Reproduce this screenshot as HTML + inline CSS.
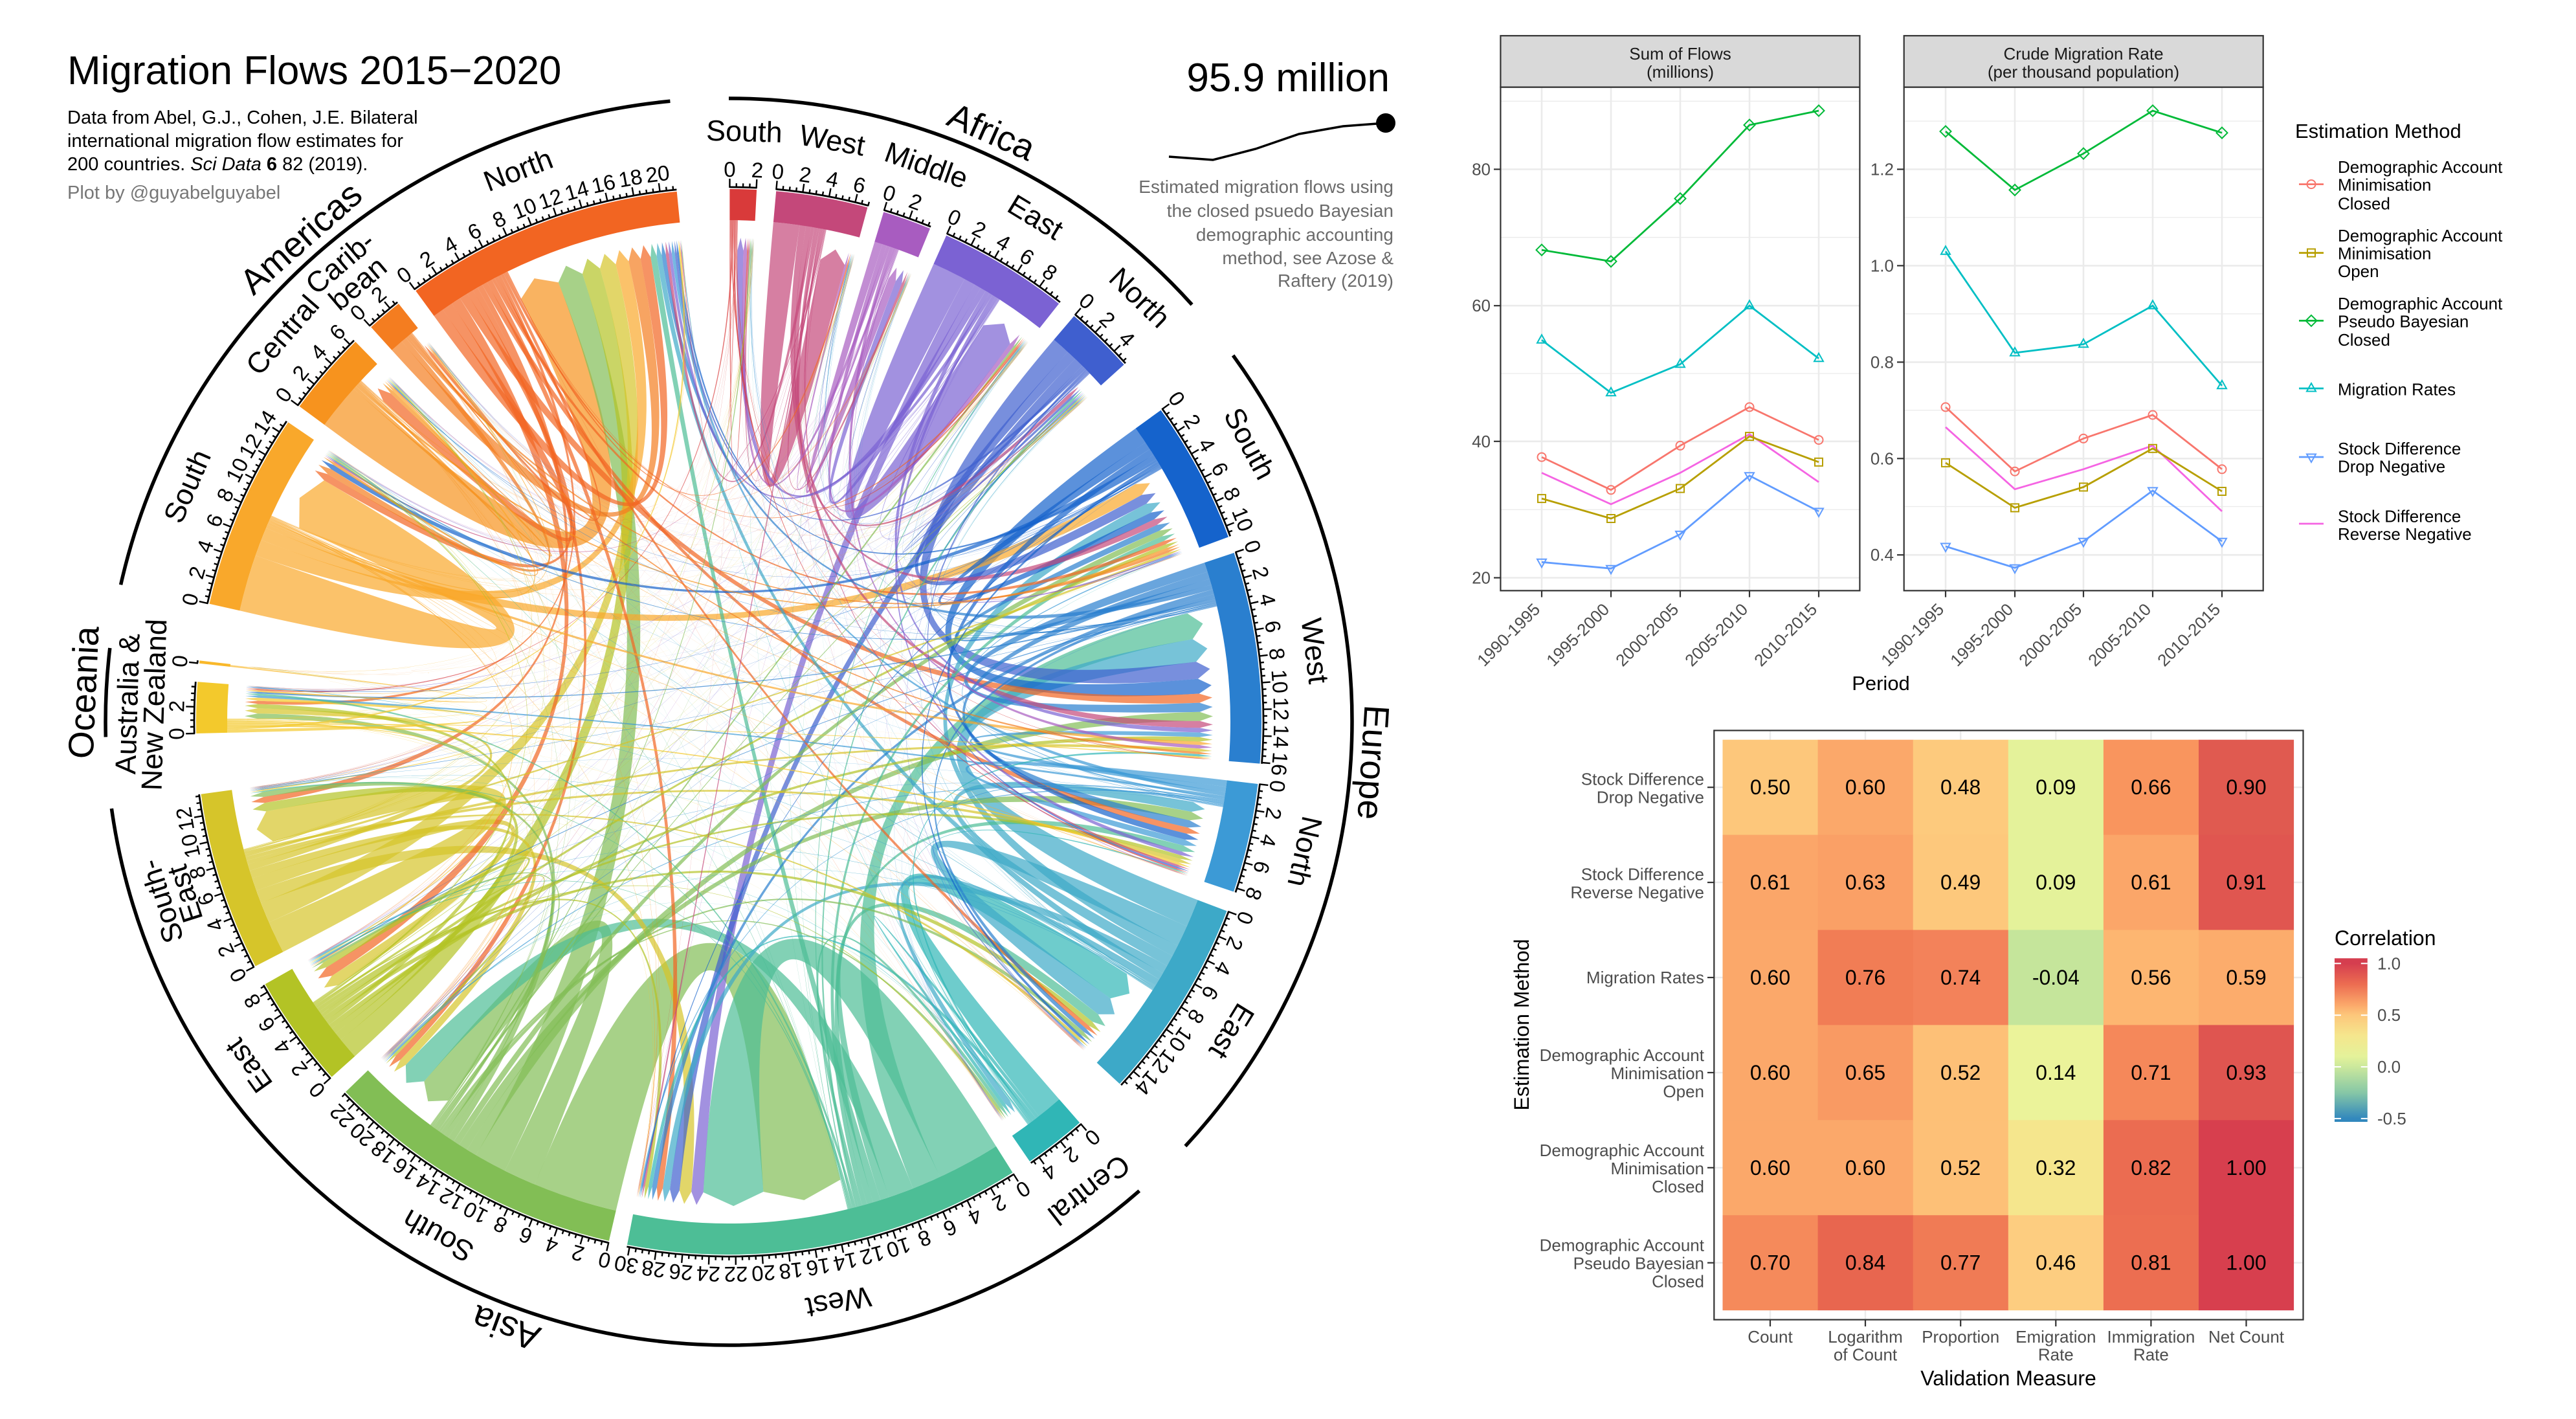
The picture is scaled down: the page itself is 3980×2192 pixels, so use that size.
<!DOCTYPE html>
<html><head><meta charset="utf-8"><style>
html,body{margin:0;padding:0;background:#fff;}
body{width:3980px;height:2192px;overflow:hidden;}
svg{display:block;}
text{font-family:"Liberation Sans",Arial,sans-serif;}
</style></head><body>
<svg id="main" width="3980" height="2192" viewBox="0 0 3980 2192" xmlns="http://www.w3.org/2000/svg">
<defs>
<g id="mc"><circle r="6.5" fill="none" stroke-width="2"/></g>
<g id="ms"><rect x="-6" y="-6" width="12" height="12" fill="none" stroke-width="2"/></g>
<g id="md"><path d="M0,-8.5L8.5,0L0,8.5L-8.5,0Z" fill="none" stroke-width="2"/></g>
<g id="mtu"><path d="M0,-8L7,4.5L-7,4.5Z" fill="none" stroke-width="2"/></g>
<g id="mtd"><path d="M0,8L7,-4.5L-7,-4.5Z" fill="none" stroke-width="2"/></g>
<linearGradient id="cbar" x1="0" y1="0" x2="0" y2="1">
<stop offset="0" stop-color="#D53E4F"/><stop offset="0.0317" stop-color="#D53E4F"/>
<stop offset="0.158" stop-color="#EC6C51"/><stop offset="0.285" stop-color="#FBA86A"/>
<stop offset="0.348" stop-color="#FDC77B"/><stop offset="0.474" stop-color="#F5E68D"/>
<stop offset="0.600" stop-color="#E4F29A"/><stop offset="0.664" stop-color="#CBE89C"/>
<stop offset="0.822" stop-color="#86C7A6"/><stop offset="0.980" stop-color="#3288BD"/><stop offset="1" stop-color="#3288BD"/>
</linearGradient>
</defs>
<rect width="3980" height="2192" fill="#fff"/>

<!-- CHORD DIAGRAM (geometry generated by script below) -->
<g id="chords"></g>
<g id="blocks"></g>
<g id="ticks"></g>
<g id="rarcs"></g>

<!-- titles -->
<text x="104" y="130" font-size="62" fill="#000">Migration Flows 2015−2020</text>
<text x="104" y="191" font-size="29" fill="#000">Data from Abel, G.J., Cohen, J.E. Bilateral</text>
<text x="104" y="227" font-size="29" fill="#000">international migration flow estimates for</text>
<text x="104" y="263" font-size="29" fill="#000">200 countries. <tspan font-style="italic">Sci Data</tspan> <tspan font-weight="bold">6</tspan> 82 (2019).</text>
<text x="104" y="307" font-size="29" fill="#777">Plot by @guyabelguyabel</text>

<text x="2147" y="141" font-size="62" text-anchor="end" fill="#000">95.9 million</text>
<polyline points="1806,242 1874,247 1940,230 2007,207 2075,195 2141,190" fill="none" stroke="#000" stroke-width="3.5"/>
<circle cx="2141" cy="190" r="15" fill="#000"/>
<g font-size="28" fill="#6B6B6B" text-anchor="end">
<text x="2153" y="298">Estimated migration flows using</text>
<text x="2153" y="335">the closed psuedo Bayesian</text>
<text x="2153" y="372">demographic accounting</text>
<text x="2153" y="408">method, see Azose &amp;</text>
<text x="2153" y="443">Raftery (2019)</text>
</g>

<!-- circular labels -->
<g transform="translate(1126 1115)" text-anchor="middle" fill="#000">
<g font-size="55">
<text transform="rotate(-41.5)" y="-979">Americas</text>
<text transform="rotate(24)" y="-979">Africa</text>
<text transform="rotate(93.6)" y="-979">Europe</text>
<text transform="rotate(200.2)" y="-979">Asia</text>
<text transform="rotate(-87.4)" y="-979">Oceania</text>
</g>
<g font-size="45">
<text transform="rotate(-66.5)" y="-897">South</text>
<text transform="rotate(-49.1)" y="-897">Central</text>
<text transform="rotate(-40.25)" y="-914">Carib-</text>
<text transform="rotate(-40.25)" y="-872">bean</text>
<text transform="rotate(-20.9)" y="-897">North</text>
<text transform="rotate(1.5)" y="-897">South</text>
<text transform="rotate(10.1)" y="-897">West</text>
<text transform="rotate(19.55)" y="-897">Middle</text>
<text transform="rotate(31.3)" y="-897">East</text>
<text transform="rotate(44.1)" y="-897">North</text>
<text transform="rotate(61.9)" y="-897">South</text>
<text transform="rotate(83.1)" y="-897">West</text>
<text transform="rotate(102.7)" y="-897">North</text>
<text transform="rotate(121.6)" y="-897">East</text>
<text transform="rotate(142.4)" y="-897">Central</text>
<text transform="rotate(169.3)" y="-897">West</text>
<text transform="rotate(209.5)" y="-897">South</text>
<text transform="rotate(234.4)" y="-897">East</text>
<text transform="rotate(252.45)" y="-904">South-</text>
<text transform="rotate(252.45)" y="-866">East</text>
<text transform="rotate(271.7)" y="-914">Australia &amp;</text>
<text transform="rotate(271.7)" y="-873">New Zealand</text>
</g>
<g font-size="33">
<text transform="rotate(-77.2)" y="-842">0</text><text transform="rotate(-74.34)" y="-842">2</text><text transform="rotate(-71.48)" y="-842">4</text><text transform="rotate(-68.62)" y="-842">6</text><text transform="rotate(-65.76)" y="-842">8</text><text transform="rotate(-62.9)" y="-842">10</text><text transform="rotate(-60.04)" y="-842">12</text><text transform="rotate(-57.18)" y="-842">14</text>
<text transform="rotate(-53.7)" y="-842">0</text><text transform="rotate(-50.84)" y="-842">2</text><text transform="rotate(-47.98)" y="-842">4</text><text transform="rotate(-45.12)" y="-842">6</text>
<text transform="rotate(-42.2)" y="-842">0</text><text transform="rotate(-39.34)" y="-842">2</text>
<text transform="rotate(-36)" y="-842">0</text><text transform="rotate(-33.14)" y="-842">2</text><text transform="rotate(-30.28)" y="-842">4</text><text transform="rotate(-27.42)" y="-842">6</text><text transform="rotate(-24.56)" y="-842">8</text><text transform="rotate(-21.7)" y="-842">10</text><text transform="rotate(-18.84)" y="-842">12</text><text transform="rotate(-15.98)" y="-842">14</text><text transform="rotate(-13.12)" y="-842">16</text><text transform="rotate(-10.26)" y="-842">18</text><text transform="rotate(-7.4)" y="-842">20</text>
<text transform="rotate(0.1)" y="-842">0</text><text transform="rotate(2.96)" y="-842">2</text>
<text transform="rotate(5.1)" y="-842">0</text><text transform="rotate(7.96)" y="-842">2</text><text transform="rotate(10.82)" y="-842">4</text><text transform="rotate(13.68)" y="-842">6</text>
<text transform="rotate(16.9)" y="-842">0</text><text transform="rotate(19.76)" y="-842">2</text>
<text transform="rotate(24.1)" y="-842">0</text><text transform="rotate(26.96)" y="-842">2</text><text transform="rotate(29.82)" y="-842">4</text><text transform="rotate(32.68)" y="-842">6</text><text transform="rotate(35.54)" y="-842">8</text>
<text transform="rotate(40.4)" y="-842">0</text><text transform="rotate(43.26)" y="-842">2</text><text transform="rotate(46.12)" y="-842">4</text>
<text transform="rotate(54.2)" y="-842">0</text><text transform="rotate(57.06)" y="-842">2</text><text transform="rotate(59.92)" y="-842">4</text><text transform="rotate(62.78)" y="-842">6</text><text transform="rotate(65.64)" y="-842">8</text><text transform="rotate(68.5)" y="-842">10</text>
<text transform="rotate(71.5)" y="-842">0</text><text transform="rotate(74.36)" y="-842">2</text><text transform="rotate(77.22)" y="-842">4</text><text transform="rotate(80.08)" y="-842">6</text><text transform="rotate(82.94)" y="-842">8</text><text transform="rotate(85.8)" y="-842">10</text><text transform="rotate(88.66)" y="-842">12</text><text transform="rotate(91.52)" y="-842">14</text><text transform="rotate(94.38)" y="-842">16</text>
<text transform="rotate(96.7)" y="-842">0</text><text transform="rotate(99.56)" y="-842">2</text><text transform="rotate(102.42)" y="-842">4</text><text transform="rotate(105.28)" y="-842">6</text><text transform="rotate(108.14)" y="-842">8</text>
<text transform="rotate(110.8)" y="-842">0</text><text transform="rotate(113.66)" y="-842">2</text><text transform="rotate(116.52)" y="-842">4</text><text transform="rotate(119.38)" y="-842">6</text><text transform="rotate(122.24)" y="-842">8</text><text transform="rotate(125.1)" y="-842">10</text><text transform="rotate(127.96)" y="-842">12</text><text transform="rotate(130.82)" y="-842">14</text>
<text transform="rotate(138.8)" y="-842">0</text><text transform="rotate(141.66)" y="-842">2</text><text transform="rotate(144.52)" y="-842">4</text>
<text transform="rotate(147.8)" y="-842">0</text><text transform="rotate(150.66)" y="-842">2</text><text transform="rotate(153.52)" y="-842">4</text><text transform="rotate(156.38)" y="-842">6</text><text transform="rotate(159.24)" y="-842">8</text><text transform="rotate(162.1)" y="-842">10</text><text transform="rotate(164.96)" y="-842">12</text><text transform="rotate(167.82)" y="-842">14</text><text transform="rotate(170.68)" y="-842">16</text><text transform="rotate(173.54)" y="-842">18</text><text transform="rotate(176.4)" y="-842">20</text><text transform="rotate(179.26)" y="-842">22</text><text transform="rotate(182.12)" y="-842">24</text><text transform="rotate(184.98)" y="-842">26</text><text transform="rotate(187.84)" y="-842">28</text><text transform="rotate(190.7)" y="-842">30</text>
<text transform="rotate(193)" y="-842">0</text><text transform="rotate(195.86)" y="-842">2</text><text transform="rotate(198.72)" y="-842">4</text><text transform="rotate(201.58)" y="-842">6</text><text transform="rotate(204.44)" y="-842">8</text><text transform="rotate(207.3)" y="-842">10</text><text transform="rotate(210.16)" y="-842">12</text><text transform="rotate(213.02)" y="-842">14</text><text transform="rotate(215.88)" y="-842">16</text><text transform="rotate(218.74)" y="-842">18</text><text transform="rotate(221.6)" y="-842">20</text><text transform="rotate(224.46)" y="-842">22</text>
<text transform="rotate(228.2)" y="-842">0</text><text transform="rotate(231.06)" y="-842">2</text><text transform="rotate(233.92)" y="-842">4</text><text transform="rotate(236.78)" y="-842">6</text><text transform="rotate(239.64)" y="-842">8</text>
<text transform="rotate(242.7)" y="-842">0</text><text transform="rotate(245.56)" y="-842">2</text><text transform="rotate(248.42)" y="-842">4</text><text transform="rotate(251.28)" y="-842">6</text><text transform="rotate(254.14)" y="-842">8</text><text transform="rotate(257)" y="-842">10</text><text transform="rotate(259.86)" y="-842">12</text>
<text transform="rotate(268.75)" y="-842">0</text><text transform="rotate(271.61)" y="-842">2</text>
<text transform="rotate(276.3)" y="-842">0</text>
</g>
</g>

<!-- LINE CHARTS -->
<g>
<!-- left panel -->
<rect x="2318.4" y="134.6" width="555" height="777.8" fill="#fff"/>
<g stroke="#EBEBEB" stroke-width="1.3">
<line x1="2318.4" y1="156.3" x2="2873.4" y2="156.3"/><line x1="2318.4" y1="366.7" x2="2873.4" y2="366.7"/><line x1="2318.4" y1="577" x2="2873.4" y2="577"/><line x1="2318.4" y1="787.3" x2="2873.4" y2="787.3"/>
</g>
<g stroke="#EBEBEB" stroke-width="2.6">
<line x1="2318.4" y1="261.5" x2="2873.4" y2="261.5"/><line x1="2318.4" y1="472.2" x2="2873.4" y2="472.2"/><line x1="2318.4" y1="681.8" x2="2873.4" y2="681.8"/><line x1="2318.4" y1="892.5" x2="2873.4" y2="892.5"/>
<line x1="2382" y1="134.6" x2="2382" y2="912.4"/><line x1="2489" y1="134.6" x2="2489" y2="912.4"/><line x1="2596" y1="134.6" x2="2596" y2="912.4"/><line x1="2703" y1="134.6" x2="2703" y2="912.4"/><line x1="2810" y1="134.6" x2="2810" y2="912.4"/>
</g>
<g fill="none" stroke-width="2.8">
<polyline stroke="#00BA38" points="2382,386.1 2489,403.8 2596,306.7 2703,193.1 2810,171"/>
<polyline stroke="#00BFC4" points="2382,525.2 2489,606.8 2596,562.7 2703,472.2 2810,553.8"/>
<polyline stroke="#F8766D" points="2382,706.1 2489,756.8 2596,688.4 2703,628.9 2810,679.6"/>
<polyline stroke="#F564E3" points="2382,730.4 2489,778.9 2596,730.4 2703,670.8 2810,744.7"/>
<polyline stroke="#B79F00" points="2382,770.1 2489,801 2596,754.6 2703,674.1 2810,713.8"/>
<polyline stroke="#619CFF" points="2382,868.3 2489,878.2 2596,825.2 2703,734.8 2810,789.9"/>
</g>
<g stroke="#00BA38"><use href="#md" x="2382" y="386.1"/><use href="#md" x="2489" y="403.8"/><use href="#md" x="2596" y="306.7"/><use href="#md" x="2703" y="193.1"/><use href="#md" x="2810" y="171"/></g>
<g stroke="#00BFC4"><use href="#mtu" x="2382" y="525.2"/><use href="#mtu" x="2489" y="606.8"/><use href="#mtu" x="2596" y="562.7"/><use href="#mtu" x="2703" y="472.2"/><use href="#mtu" x="2810" y="553.8"/></g>
<g stroke="#F8766D"><use href="#mc" x="2382" y="706.1"/><use href="#mc" x="2489" y="756.8"/><use href="#mc" x="2596" y="688.4"/><use href="#mc" x="2703" y="628.9"/><use href="#mc" x="2810" y="679.6"/></g>
<g stroke="#B79F00"><use href="#ms" x="2382" y="770.1"/><use href="#ms" x="2489" y="801"/><use href="#ms" x="2596" y="754.6"/><use href="#ms" x="2703" y="674.1"/><use href="#ms" x="2810" y="713.8"/></g>
<g stroke="#619CFF"><use href="#mtd" x="2382" y="868.3"/><use href="#mtd" x="2489" y="878.2"/><use href="#mtd" x="2596" y="825.2"/><use href="#mtd" x="2703" y="734.8"/><use href="#mtd" x="2810" y="789.9"/></g>
<rect x="2318.4" y="134.6" width="555" height="777.8" fill="none" stroke="#333" stroke-width="2.2"/>
<rect x="2318.4" y="55.2" width="555" height="79.4" fill="#D9D9D9" stroke="#333" stroke-width="2.2"/>
<g font-size="26" fill="#1A1A1A" text-anchor="middle"><text x="2596" y="92">Sum of Flows</text><text x="2596" y="120">(millions)</text></g>
<g stroke="#333" stroke-width="2.2">
<line x1="2308" y1="261.5" x2="2318.4" y2="261.5"/><line x1="2308" y1="472.2" x2="2318.4" y2="472.2"/><line x1="2308" y1="681.8" x2="2318.4" y2="681.8"/><line x1="2308" y1="892.5" x2="2318.4" y2="892.5"/>
<line x1="2382" y1="912.4" x2="2382" y2="922.5"/><line x1="2489" y1="912.4" x2="2489" y2="922.5"/><line x1="2596" y1="912.4" x2="2596" y2="922.5"/><line x1="2703" y1="912.4" x2="2703" y2="922.5"/><line x1="2810" y1="912.4" x2="2810" y2="922.5"/>
</g>
<g font-size="26" fill="#4D4D4D" text-anchor="end">
<text x="2303" y="270.5">80</text><text x="2303" y="481.2">60</text><text x="2303" y="690.8">40</text><text x="2303" y="901.5">20</text>
<text transform="translate(2381 943) rotate(-45)">1990-1995</text>
<text transform="translate(2488 943) rotate(-45)">1995-2000</text>
<text transform="translate(2595 943) rotate(-45)">2000-2005</text>
<text transform="translate(2702 943) rotate(-45)">2005-2010</text>
<text transform="translate(2809 943) rotate(-45)">2010-2015</text>
</g>

<!-- right panel -->
<rect x="2941.7" y="134.6" width="555" height="777.8" fill="#fff"/>
<g stroke="#EBEBEB" stroke-width="1.3">
<line x1="2941.7" y1="187.1" x2="3496.7" y2="187.1"/><line x1="2941.7" y1="335.9" x2="3496.7" y2="335.9"/><line x1="2941.7" y1="484.8" x2="3496.7" y2="484.8"/><line x1="2941.7" y1="633.7" x2="3496.7" y2="633.7"/><line x1="2941.7" y1="782.5" x2="3496.7" y2="782.5"/>
</g>
<g stroke="#EBEBEB" stroke-width="2.6">
<line x1="2941.7" y1="261.5" x2="3496.7" y2="261.5"/><line x1="2941.7" y1="410.4" x2="3496.7" y2="410.4"/><line x1="2941.7" y1="559.4" x2="3496.7" y2="559.4"/><line x1="2941.7" y1="708.3" x2="3496.7" y2="708.3"/><line x1="2941.7" y1="857.2" x2="3496.7" y2="857.2"/>
<line x1="3006" y1="134.6" x2="3006" y2="912.4"/><line x1="3113" y1="134.6" x2="3113" y2="912.4"/><line x1="3219" y1="134.6" x2="3219" y2="912.4"/><line x1="3326" y1="134.6" x2="3326" y2="912.4"/><line x1="3433" y1="134.6" x2="3433" y2="912.4"/>
</g>
<g fill="none" stroke-width="2.8">
<polyline stroke="#00BA38" points="3006,203 3113,293.5 3219,237.2 3326,171 3433,205.2"/>
<polyline stroke="#00BFC4" points="3006,388.3 3113,545 3219,531.8 3326,472.2 3433,595.8"/>
<polyline stroke="#F8766D" points="3006,628.9 3113,728.2 3219,677.4 3326,641 3433,724.8"/>
<polyline stroke="#F564E3" points="3006,659.8 3113,755.7 3219,724.8 3326,688.4 3433,789.9"/>
<polyline stroke="#B79F00" points="3006,714.9 3113,784.4 3219,752.4 3326,692.8 3433,759"/>
<polyline stroke="#619CFF" points="3006,844 3113,877.1 3219,836.3 3326,757.9 3433,836.3"/>
</g>
<g stroke="#00BA38"><use href="#md" x="3006" y="203"/><use href="#md" x="3113" y="293.5"/><use href="#md" x="3219" y="237.2"/><use href="#md" x="3326" y="171"/><use href="#md" x="3433" y="205.2"/></g>
<g stroke="#00BFC4"><use href="#mtu" x="3006" y="388.3"/><use href="#mtu" x="3113" y="545"/><use href="#mtu" x="3219" y="531.8"/><use href="#mtu" x="3326" y="472.2"/><use href="#mtu" x="3433" y="595.8"/></g>
<g stroke="#F8766D"><use href="#mc" x="3006" y="628.9"/><use href="#mc" x="3113" y="728.2"/><use href="#mc" x="3219" y="677.4"/><use href="#mc" x="3326" y="641"/><use href="#mc" x="3433" y="724.8"/></g>
<g stroke="#B79F00"><use href="#ms" x="3006" y="714.9"/><use href="#ms" x="3113" y="784.4"/><use href="#ms" x="3219" y="752.4"/><use href="#ms" x="3326" y="692.8"/><use href="#ms" x="3433" y="759"/></g>
<g stroke="#619CFF"><use href="#mtd" x="3006" y="844"/><use href="#mtd" x="3113" y="877.1"/><use href="#mtd" x="3219" y="836.3"/><use href="#mtd" x="3326" y="757.9"/><use href="#mtd" x="3433" y="836.3"/></g>
<rect x="2941.7" y="134.6" width="555" height="777.8" fill="none" stroke="#333" stroke-width="2.2"/>
<rect x="2941.7" y="55.2" width="555" height="79.4" fill="#D9D9D9" stroke="#333" stroke-width="2.2"/>
<g font-size="26" fill="#1A1A1A" text-anchor="middle"><text x="3219" y="92">Crude Migration Rate</text><text x="3219" y="120">(per thousand population)</text></g>
<g stroke="#333" stroke-width="2.2">
<line x1="2931" y1="261.5" x2="2941.7" y2="261.5"/><line x1="2931" y1="410.4" x2="2941.7" y2="410.4"/><line x1="2931" y1="559.4" x2="2941.7" y2="559.4"/><line x1="2931" y1="708.3" x2="2941.7" y2="708.3"/><line x1="2931" y1="857.2" x2="2941.7" y2="857.2"/>
<line x1="3006" y1="912.4" x2="3006" y2="922.5"/><line x1="3113" y1="912.4" x2="3113" y2="922.5"/><line x1="3219" y1="912.4" x2="3219" y2="922.5"/><line x1="3326" y1="912.4" x2="3326" y2="922.5"/><line x1="3433" y1="912.4" x2="3433" y2="922.5"/>
</g>
<g font-size="26" fill="#4D4D4D" text-anchor="end">
<text x="2926" y="270.5">1.2</text><text x="2926" y="419.4">1.0</text><text x="2926" y="568.4">0.8</text><text x="2926" y="717.3">0.6</text><text x="2926" y="866.2">0.4</text>
<text transform="translate(3005 943) rotate(-45)">1990-1995</text>
<text transform="translate(3112 943) rotate(-45)">1995-2000</text>
<text transform="translate(3218 943) rotate(-45)">2000-2005</text>
<text transform="translate(3325 943) rotate(-45)">2005-2010</text>
<text transform="translate(3432 943) rotate(-45)">2010-2015</text>
</g>
<text x="2906" y="1066" font-size="31" text-anchor="middle" fill="#000">Period</text>

<!-- legend -->
<text x="3546" y="213" font-size="31" fill="#000">Estimation Method</text>
<g stroke-width="2.8">
<line x1="3552" y1="284.6" x2="3590" y2="284.6" stroke="#F8766D"/><use href="#mc" x="3571" y="284.6" stroke="#F8766D"/>
<line x1="3552" y1="390.6" x2="3590" y2="390.6" stroke="#B79F00"/><use href="#ms" x="3571" y="390.6" stroke="#B79F00"/>
<line x1="3552" y1="495.4" x2="3590" y2="495.4" stroke="#00BA38"/><use href="#md" x="3571" y="495.4" stroke="#00BA38"/>
<line x1="3552" y1="600" x2="3590" y2="600" stroke="#00BFC4"/><use href="#mtu" x="3571" y="600" stroke="#00BFC4"/>
<line x1="3552" y1="706" x2="3590" y2="706" stroke="#619CFF"/><use href="#mtd" x="3571" y="706" stroke="#619CFF"/>
<line x1="3552" y1="809" x2="3590" y2="809" stroke="#F564E3"/>
</g>
<g font-size="26" fill="#000">
<text x="3612" y="267">Demographic Account</text><text x="3612" y="294.7">Minimisation</text><text x="3612" y="323.4">Closed</text>
<text x="3612" y="373">Demographic Account</text><text x="3612" y="400.7">Minimisation</text><text x="3612" y="428.2">Open</text>
<text x="3612" y="478">Demographic Account</text><text x="3612" y="505.5">Pseudo Bayesian</text><text x="3612" y="534">Closed</text>
<text x="3612" y="610.3">Migration Rates</text>
<text x="3612" y="701.8">Stock Difference</text><text x="3612" y="729.4">Drop Negative</text>
<text x="3612" y="806.7">Stock Difference</text><text x="3612" y="834.2">Reverse Negative</text>
</g>
</g>

<!-- HEATMAP -->
<g>
<rect x="2648.3" y="1128.4" width="910.2" height="910.2" fill="#fff"/>
<g stroke="#EBEBEB" stroke-width="2.4">
<line x1="2735" y1="1128.4" x2="2735" y2="2038.6"/><line x1="2882" y1="1128.4" x2="2882" y2="2038.6"/><line x1="3029.2" y1="1128.4" x2="3029.2" y2="2038.6"/><line x1="3176.3" y1="1128.4" x2="3176.3" y2="2038.6"/><line x1="3323.4" y1="1128.4" x2="3323.4" y2="2038.6"/><line x1="3470.5" y1="1128.4" x2="3470.5" y2="2038.6"/>
<line x1="2648.3" y1="1216.2" x2="3558.5" y2="1216.2"/><line x1="2648.3" y1="1363.1" x2="3558.5" y2="1363.1"/><line x1="2648.3" y1="1510" x2="3558.5" y2="1510"/><line x1="2648.3" y1="1656.9" x2="3558.5" y2="1656.9"/><line x1="2648.3" y1="1803.8" x2="3558.5" y2="1803.8"/><line x1="2648.3" y1="1950.7" x2="3558.5" y2="1950.7"/>
</g>
<g>
<rect x="2661.5" y="1142.7" width="147.6" height="147.4" fill="#FDC77B"/><rect x="2808.6" y="1142.7" width="147.6" height="147.4" fill="#FBA86A"/><rect x="2955.7" y="1142.7" width="147.6" height="147.4" fill="#FDCA7D"/><rect x="3102.8" y="1142.7" width="147.6" height="147.4" fill="#E4F29A"/><rect x="3249.9" y="1142.7" width="147.6" height="147.4" fill="#F9955E"/><rect x="3397" y="1142.7" width="147.1" height="147.4" fill="#E05A50"/>
<rect x="2661.5" y="1289.6" width="147.6" height="147.4" fill="#FBA669"/><rect x="2808.6" y="1289.6" width="147.6" height="147.4" fill="#FAA066"/><rect x="2955.7" y="1289.6" width="147.6" height="147.4" fill="#FDC87C"/><rect x="3102.8" y="1289.6" width="147.6" height="147.4" fill="#E4F29A"/><rect x="3249.9" y="1289.6" width="147.6" height="147.4" fill="#FBA669"/><rect x="3397" y="1289.6" width="147.1" height="147.4" fill="#E05650"/>
<rect x="2661.5" y="1436.5" width="147.6" height="147.4" fill="#FBA86A"/><rect x="2808.6" y="1436.5" width="147.6" height="147.4" fill="#F17D55"/><rect x="2955.7" y="1436.5" width="147.6" height="147.4" fill="#F3825A"/><rect x="3102.8" y="1436.5" width="147.6" height="147.4" fill="#C5E59B"/><rect x="3249.9" y="1436.5" width="147.6" height="147.4" fill="#FDB671"/><rect x="3397" y="1436.5" width="147.1" height="147.4" fill="#FCAC6C"/>
<rect x="2661.5" y="1583.4" width="147.6" height="147.4" fill="#FBA86A"/><rect x="2808.6" y="1583.4" width="147.6" height="147.4" fill="#F99A63"/><rect x="2955.7" y="1583.4" width="147.6" height="147.4" fill="#FDC077"/><rect x="3102.8" y="1583.4" width="147.6" height="147.4" fill="#EBF39A"/><rect x="3249.9" y="1583.4" width="147.6" height="147.4" fill="#F5885A"/><rect x="3397" y="1583.4" width="147.1" height="147.4" fill="#DF5550"/>
<rect x="2661.5" y="1730.3" width="147.6" height="147.4" fill="#FBA86A"/><rect x="2808.6" y="1730.3" width="147.6" height="147.4" fill="#FBA86A"/><rect x="2955.7" y="1730.3" width="147.6" height="147.4" fill="#FDC077"/><rect x="3102.8" y="1730.3" width="147.6" height="147.4" fill="#F5E68D"/><rect x="3249.9" y="1730.3" width="147.6" height="147.4" fill="#EB6C51"/><rect x="3397" y="1730.3" width="147.1" height="147.4" fill="#D73F4E"/>
<rect x="2661.5" y="1877.2" width="147.6" height="147" fill="#F58A5B"/><rect x="2808.6" y="1877.2" width="147.6" height="147" fill="#E8664F"/><rect x="2955.7" y="1877.2" width="147.6" height="147" fill="#F07B55"/><rect x="3102.8" y="1877.2" width="147.6" height="147" fill="#FDCD80"/><rect x="3249.9" y="1877.2" width="147.6" height="147" fill="#EC6E51"/><rect x="3397" y="1877.2" width="147.1" height="147" fill="#D73F4E"/>
</g>
<g font-size="32" fill="#000" text-anchor="middle">
<text x="2735" y="1227.2">0.50</text><text x="2882" y="1227.2">0.60</text><text x="3029.2" y="1227.2">0.48</text><text x="3176.3" y="1227.2">0.09</text><text x="3323.4" y="1227.2">0.66</text><text x="3470.5" y="1227.2">0.90</text>
<text x="2735" y="1374.1">0.61</text><text x="2882" y="1374.1">0.63</text><text x="3029.2" y="1374.1">0.49</text><text x="3176.3" y="1374.1">0.09</text><text x="3323.4" y="1374.1">0.61</text><text x="3470.5" y="1374.1">0.91</text>
<text x="2735" y="1521">0.60</text><text x="2882" y="1521">0.76</text><text x="3029.2" y="1521">0.74</text><text x="3176.3" y="1521">-0.04</text><text x="3323.4" y="1521">0.56</text><text x="3470.5" y="1521">0.59</text>
<text x="2735" y="1667.9">0.60</text><text x="2882" y="1667.9">0.65</text><text x="3029.2" y="1667.9">0.52</text><text x="3176.3" y="1667.9">0.14</text><text x="3323.4" y="1667.9">0.71</text><text x="3470.5" y="1667.9">0.93</text>
<text x="2735" y="1814.8">0.60</text><text x="2882" y="1814.8">0.60</text><text x="3029.2" y="1814.8">0.52</text><text x="3176.3" y="1814.8">0.32</text><text x="3323.4" y="1814.8">0.82</text><text x="3470.5" y="1814.8">1.00</text>
<text x="2735" y="1961.7">0.70</text><text x="2882" y="1961.7">0.84</text><text x="3029.2" y="1961.7">0.77</text><text x="3176.3" y="1961.7">0.46</text><text x="3323.4" y="1961.7">0.81</text><text x="3470.5" y="1961.7">1.00</text>
</g>
<rect x="2648.3" y="1128.4" width="910.2" height="910.2" fill="none" stroke="#333" stroke-width="2.2"/>
<g stroke="#333" stroke-width="2.2">
<line x1="2638" y1="1216.2" x2="2648.3" y2="1216.2"/><line x1="2638" y1="1363.1" x2="2648.3" y2="1363.1"/><line x1="2638" y1="1510" x2="2648.3" y2="1510"/><line x1="2638" y1="1656.9" x2="2648.3" y2="1656.9"/><line x1="2638" y1="1803.8" x2="2648.3" y2="1803.8"/><line x1="2638" y1="1950.7" x2="2648.3" y2="1950.7"/>
<line x1="2735" y1="2038.6" x2="2735" y2="2049"/><line x1="2882" y1="2038.6" x2="2882" y2="2049"/><line x1="3029.2" y1="2038.6" x2="3029.2" y2="2049"/><line x1="3176.3" y1="2038.6" x2="3176.3" y2="2049"/><line x1="3323.4" y1="2038.6" x2="3323.4" y2="2049"/><line x1="3470.5" y1="2038.6" x2="3470.5" y2="2049"/>
</g>
<g font-size="26" fill="#4D4D4D" text-anchor="end">
<text x="2633" y="1212.4">Stock Difference</text><text x="2633" y="1240.4">Drop Negative</text>
<text x="2633" y="1359.3">Stock Difference</text><text x="2633" y="1387.3">Reverse Negative</text>
<text x="2633" y="1519">Migration Rates</text>
<text x="2633" y="1638.9">Demographic Account</text><text x="2633" y="1666.9">Minimisation</text><text x="2633" y="1694.9">Open</text>
<text x="2633" y="1785.8">Demographic Account</text><text x="2633" y="1813.8">Minimisation</text><text x="2633" y="1841.8">Closed</text>
<text x="2633" y="1932.7">Demographic Account</text><text x="2633" y="1960.7">Pseudo Bayesian</text><text x="2633" y="1988.7">Closed</text>
</g>
<g font-size="26" fill="#4D4D4D" text-anchor="middle">
<text x="2735" y="2074">Count</text>
<text x="2882" y="2074">Logarithm</text><text x="2882" y="2101.6">of Count</text>
<text x="3029.2" y="2074">Proportion</text>
<text x="3176.3" y="2074">Emigration</text><text x="3176.3" y="2101.6">Rate</text>
<text x="3323.4" y="2074">Immigration</text><text x="3323.4" y="2101.6">Rate</text>
<text x="3470.5" y="2074">Net Count</text>
</g>
<text x="3103" y="2140" font-size="32" text-anchor="middle" fill="#000">Validation Measure</text>
<text transform="translate(2362 1583) rotate(-90)" font-size="32" text-anchor="middle" fill="#000">Estimation Method</text>
<!-- colorbar -->
<text x="3607" y="1460" font-size="32" fill="#000">Correlation</text>
<rect x="3607" y="1480.3" width="50.8" height="252.7" fill="url(#cbar)"/>
<g stroke="#fff" stroke-width="2">
<line x1="3607" y1="1488.3" x2="3617" y2="1488.3"/><line x1="3647.8" y1="1488.3" x2="3657.8" y2="1488.3"/>
<line x1="3607" y1="1568.2" x2="3617" y2="1568.2"/><line x1="3647.8" y1="1568.2" x2="3657.8" y2="1568.2"/>
<line x1="3607" y1="1648" x2="3617" y2="1648"/><line x1="3647.8" y1="1648" x2="3657.8" y2="1648"/>
<line x1="3607" y1="1727.9" x2="3617" y2="1727.9"/><line x1="3647.8" y1="1727.9" x2="3657.8" y2="1727.9"/>
</g>
<g font-size="26" fill="#4D4D4D">
<text x="3673" y="1497.3">1.0</text><text x="3673" y="1577.2">0.5</text><text x="3673" y="1657">0.0</text><text x="3673" y="1736.9">-0.5</text>
</g>
</g>
</svg>
<script>
(function(){
var cx=1126,cy=1115,R=775,RO=823,RSH=728,RTIP=748,D=Math.PI/180;
function P(a,r){return [cx+r*Math.sin(a*D),cy-r*Math.cos(a*D)];}
function f(p){return p[0].toFixed(1)+','+p[1].toFixed(1);}
var sec={
SAm:[-77.2,-55.8,'#F9A82B'],CAm:[-53.7,-44.5,'#F7931E'],Car:[-42.2,-38.3,'#F47D20'],NAm:[-36.0,-5.6,'#F26522'],
SAf:[0.1,3.0,'#D93A3A'],WAf:[5.1,15.1,'#C4487A'],MAf:[16.9,22.2,'#A85CC0'],EAf:[24.1,38.3,'#7B62D3'],NAf:[40.4,47.9,'#3F5FCF'],
SEu:[54.2,69.7,'#1563CC'],WEu:[71.5,94.5,'#2A7FCF'],NEu:[96.7,108.6,'#3C9AD6'],EEu:[110.8,132.8,'#3DA9C8'],
CAs:[138.8,145.6,'#30B6B6'],WAs:[147.8,191.0,'#4DBE96'],SAs:[193.0,226.0,'#82BE55'],EAs:[228.2,240.5,'#B3C325'],SEAs:[242.7,262.2,'#D6C52A'],
ANZ:[268.75,274.3,'#F3C92C'],OcO:[276.3,276.6,'#F9B82A']};
var keys=Object.keys(sec);
var F=[
['SAm','SAm',4.5],['SAm','NAm',1.3],['SAm','SEu',1.0],['SAm','WEu',0.3],['SAm','CAm',0.2],['SAm','Car',0.1],['SAm','EAs',0.1],['SAm','ANZ',0.05],['SAm','NEu',0.05],
['CAm','NAm',4.0],['CAm','CAm',0.3],['CAm','SEu',0.2],['CAm','SAm',0.2],['CAm','WEu',0.05],
['Car','NAm',1.2],['Car','SAm',0.5],['Car','SEu',0.2],['Car','WEu',0.2],['Car','Car',0.1],['Car','CAm',0.1],
['NAm','NAm',1.0],['NAm','CAm',1.0],['NAm','SAm',0.6],['NAm','EAs',0.9],['NAm','SAs',0.5],['NAm','SEAs',0.5],['NAm','WEu',0.8],['NAm','NEu',0.5],['NAm','SEu',0.3],['NAm','EEu',0.3],['NAm','ANZ',0.3],['NAm','WAs',0.5],['NAm','Car',0.3],['NAm','EAf',0.15],['NAm','WAf',0.15],['NAm','NAf',0.05],['NAm','MAf',0.05],
['SAf','SAf',0.1],['SAf','NEu',0.1],['SAf','ANZ',0.1],['SAf','EAf',0.1],['SAf','NAm',0.05],['SAf','WEu',0.05],
['WAf','WAf',2.5],['WAf','WEu',0.6],['WAf','SEu',0.5],['WAf','NAm',0.3],['WAf','NAf',0.3],['WAf','MAf',0.2],['WAf','NEu',0.15],['WAf','WAs',0.15],['WAf','SAf',0.1],['WAf','SAm',0.1],
['MAf','MAf',0.7],['MAf','EAf',0.4],['MAf','SAf',0.3],['MAf','WAf',0.2],['MAf','WEu',0.3],['MAf','SEu',0.05],['MAf','NAm',0.05],['MAf','NEu',0.05],
['EAf','EAf',3.0],['EAf','WAs',1.0],['EAf','MAf',0.6],['EAf','SAf',0.5],['EAf','NAm',0.3],['EAf','WEu',0.4],['EAf','NEu',0.3],['EAf','SEu',0.1],['EAf','NAf',0.1],['EAf','ANZ',0.05],
['NAf','NAf',0.2],['NAf','WEu',1.5],['NAf','SEu',0.8],['NAf','WAs',0.8],['NAf','NAm',0.2],['NAf','NEu',0.15],['NAf','EAf',0.05],['NAf','WAf',0.05],['NAf','MAf',0.05],['NAf','EEu',0.05],
['SEu','SEu',0.6],['SEu','WEu',1.3],['SEu','NEu',0.5],['SEu','NAm',0.2],['SEu','SAm',0.4],['SEu','EEu',0.2],['SEu','WAs',0.1],['SEu','NAf',0.05],['SEu','ANZ',0.05],['SEu','CAm',0.05],
['WEu','WEu',0.8],['WEu','SEu',0.5],['WEu','NEu',0.6],['WEu','NAm',0.4],['WEu','WAs',0.4],['WEu','EEu',0.3],['WEu','ANZ',0.15],['WEu','NAf',0.1],['WEu','SAm',0.1],['WEu','WAf',0.05],['WEu','EAs',0.1],['WEu','SAs',0.05],['WEu','SEAs',0.05],['WEu','CAm',0.05],
['NEu','NEu',0.5],['NEu','WEu',0.4],['NEu','NAm',0.3],['NEu','ANZ',0.2],['NEu','SEu',0.1],['NEu','EEu',0.1],['NEu','WAs',0.1],['NEu','SAs',0.1],['NEu','SAf',0.05],['NEu','EAs',0.05],
['EEu','EEu',1.5],['EEu','WEu',2.0],['EEu','SEu',0.8],['EEu','NEu',0.8],['EEu','NAm',0.5],['EEu','WAs',0.6],['EEu','CAs',0.5],['EEu','SAm',0.05],['EEu','ANZ',0.05],['EEu','EAs',0.05],['EEu','NAf',0.05],
['CAs','CAs',0.3],['CAs','EEu',2.2],['CAs','WAs',0.3],['CAs','WEu',0.2],['CAs','NEu',0.1],['CAs','NAm',0.05],['CAs','EAs',0.05],
['WAs','WAs',5.0],['WAs','WEu',2.3],['WAs','SAs',2.0],['WAs','NAm',0.6],['WAs','EEu',0.7],['WAs','SEu',0.4],['WAs','NEu',0.5],['WAs','CAs',0.3],['WAs','NAf',0.2],['WAs','EAf',0.1],['WAs','ANZ',0.2],['WAs','SEAs',0.1],['WAs','EAs',0.1],
['SAs','SAs',2.5],['SAs','WAs',6.5],['SAs','NAm',2.5],['SAs','WEu',0.8],['SAs','NEu',0.7],['SAs','SEu',0.5],['SAs','SEAs',0.4],['SAs','ANZ',0.5],['SAs','EEu',0.3],['SAs','CAs',0.2],['SAs','EAs',0.2],['SAs','EAf',0.2],['SAs','NAf',0.1],['SAs','SAf',0.1],['SAs','SAm',0.05],['SAs','CAm',0.05],
['EAs','EAs',0.5],['EAs','NAm',1.8],['EAs','SEAs',0.7],['EAs','WEu',0.4],['EAs','ANZ',0.4],['EAs','EEu',0.4],['EAs','SEu',0.3],['EAs','NEu',0.3],['EAs','WAs',0.3],['EAs','SAs',0.2],['EAs','CAs',0.1],['EAs','SAm',0.1],['EAs','CAm',0.05],['EAs','NAf',0.05],['EAs','SAf',0.05],
['SEAs','SEAs',2.5],['SEAs','NAm',1.6],['SEAs','WAs',1.0],['SEAs','EAs',1.0],['SEAs','ANZ',0.5],['SEAs','SAs',0.6],['SEAs','WEu',0.3],['SEAs','NEu',0.3],['SEAs','SEu',0.2],['SEAs','EEu',0.2],['SEAs','CAm',0.05],
['ANZ','ANZ',0.3],['ANZ','NAm',0.2],['ANZ','NEu',0.2],['ANZ','WEu',0.1],['ANZ','EAs',0.1],['ANZ','SEAs',0.1],['ANZ','SAs',0.05],['ANZ','OcO',0.05],
['OcO','ANZ',0.15],['OcO','NAm',0.03]];
var have={};F.forEach(function(x){have[x[0]+'>'+x[1]]=1;});
function T(k){return (sec[k][1]-sec[k][0])/1.43;}
keys.forEach(function(a){keys.forEach(function(b){if(a!==b&&!have[a+'>'+b]){F.push([a,b,0.0022*Math.sqrt(T(a)*T(b))]);}});});
var flows=F.map(function(x){return {s:x[0],t:x[1],v:x[2]};});
var outs={},ins={};keys.forEach(function(k){outs[k]=[];ins[k]=[];});
flows.forEach(function(fl){outs[fl.s].push(fl);ins[fl.t].push(fl);});
keys.forEach(function(k){
 var a0=sec[k][0],a1=sec[k][1],tot=0;
 outs[k].forEach(function(x){tot+=x.v;});ins[k].forEach(function(x){tot+=x.v;});
 var sc=(a1-a0)/tot,p=a0;
 outs[k].sort(function(a,b){return b.v-a.v;});ins[k].sort(function(a,b){return b.v-a.v;});
 outs[k].forEach(function(x){x.s0=p;p+=x.v*sc;x.s1=p;});
 ins[k].forEach(function(x){x.t0=p;p+=x.v*sc;x.t1=p;});
});
function ribbon(fl){
 var A1=P(fl.s1,R),B1=P(fl.t0,RSH),A2=P(fl.t1,RSH),B2=P(fl.s0,R);
 var sm=(fl.s0+fl.s1)/2,tm=(fl.t0+fl.t1)/2;
 var A=P(sm,R),B=P(tm,R);
 var dx=B[0]-A[0],dy=B[1]-A[1],L=Math.sqrt(dx*dx+dy*dy)||1;
 var nx=dy/L,ny=-dx/L;
 var m1x=(A1[0]+B1[0]-2*cx)/4,m1y=(A1[1]+B1[1]-2*cy)/4,m2x=(A2[0]+B2[0]-2*cx)/4,m2y=(A2[1]+B2[1]-2*cy)/4;
 var d=(m1x-m2x)*nx+(m1y-m2y)*ny;
 var w=R*(fl.s1-fl.s0)*D,want=0.32*w,sh=d<want?want-d:0;
 var C1=[cx+nx*sh,cy+ny*sh],C2=[cx-nx*sh,cy-ny*sh],Tp=P(tm,RTIP);
 return 'M'+f(B2)+'A'+R+','+R+' 0 0 1 '+f(A1)+'Q'+f(C1)+' '+f(B1)+'L'+f(Tp)+'L'+f(A2)+'Q'+f(C2)+' '+f(B2)+'Z';
}
flows.sort(function(a,b){return b.v-a.v;});
var h='';
flows.forEach(function(fl){h+='<path d="'+ribbon(fl)+'" fill="'+sec[fl.s][2]+'" fill-opacity="0.7"/>';});
document.getElementById('chords').innerHTML=h;
function ann(a0,a1,r0,r1){var p=P(a0,r1),q=P(a1,r1),s=P(a1,r0),t=P(a0,r0);return 'M'+f(p)+'A'+r1+','+r1+' 0 0 1 '+f(q)+'L'+f(s)+'A'+r0+','+r0+' 0 0 0 '+f(t)+'Z';}
var b='',tk='',ax='';
keys.forEach(function(k){
 var a0=sec[k][0],a1=sec[k][1];
 b+='<path d="'+ann(a0,a1,R,RO)+'" fill="'+sec[k][2]+'"/>';
 ax+='M'+f(P(a0,826))+'A826,826 0 0 1 '+f(P(a1,826));
 for(var u=0;a0+u*1.43<=a1+0.02;u+=0.5){var a=a0+u*1.43;var maj=(Math.round(u*2)%4===0);tk+='M'+f(P(a,825))+'L'+f(P(a,maj?839:832));}
});
document.getElementById('blocks').innerHTML=b;
document.getElementById('ticks').innerHTML='<path d="'+ax+'" fill="none" stroke="#000" stroke-width="2.8"/><path d="'+tk+'" fill="none" stroke="#000" stroke-width="2.4"/>';
var arcs=[[-77.3,-5.4],[0,48.0],[54.0,132.9],[138.8,262.0],[268.6,276.8]],ra='';
arcs.forEach(function(a){ra+='M'+f(P(a[0],963))+'A963,963 0 '+((a[1]-a[0])>180?1:0)+' 1 '+f(P(a[1],963));});
document.getElementById('rarcs').innerHTML='<path d="'+ra+'" fill="none" stroke="#000" stroke-width="5.5"/>';
})();
</script>
</body></html>
